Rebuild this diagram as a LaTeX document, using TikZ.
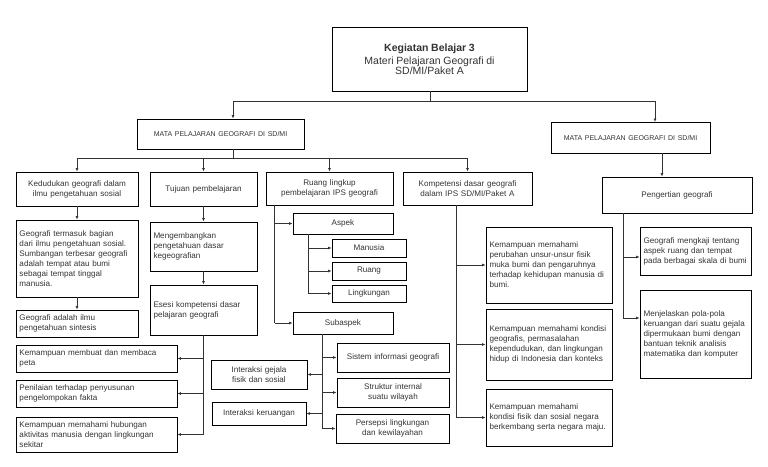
\documentclass[tikz,border=0pt]{standalone}
\usepackage{fontspec}
\setmainfont{Liberation Sans}
\usetikzlibrary{arrows.meta,calc}
\newcommand\bx[7][align=center]{%
  \node[box,#1,minimum width={(#5-#3)*1pt},minimum height={(#6-#4)*1pt},text width={(#5-#3-7)*1pt}]
   (#2) at ({(#3+#5)/2},{(#4+#6)/2}) {#7};}
\begin{document}
\hyphenpenalty=10000 \exhyphenpenalty=10000 \relax
\begin{tikzpicture}[x=1pt,y=-1pt,
  box/.style={draw,line width=0.9pt,inner sep=1.5pt,font=\fontsize{8.1}{10}\selectfont,text=black!80},
  ln/.style={line width=0.7pt,draw=black!80},
  arr/.style={ln,-{Latex[length=3.5pt,width=3pt]}}]
\useasboundingbox (0,0) rectangle (768,466);
\bx{title}{332}{27}{527}{91}{{\fontsize{10.5}{13}\selectfont\textbf{Kegiatan Belajar 3}\\ Materi Pelajaran Geografi di\\ SD/MI/Paket A}}
\bx{mataL}{137}{119}{304}{149}{{\fontsize{7}{8}\selectfont MATA PELAJARAN GEOGRAFI DI SD/MI}}
\bx{mataR}{551}{122}{710}{153}{{\fontsize{7}{8}\selectfont MATA PELAJARAN GEOGRAFI DI SD/MI}}
\bx{ked}{16}{172}{138}{206}{Kedudukan geografi dalam ilmu pengetahuan sosial}
\bx{tuj}{150}{172}{257}{206}{Tujuan pembelajaran}
\bx{ruang}{266}{172}{393}{205}{Ruang lingkup pembelajaran IPS geografi}
\bx{komp}{403}{172}{532}{205}{Kompetensi dasar geografi dalam IPS SD/MI/Paket A}
\bx{peng}{602}{177}{752}{213}{Pengertian geografi}
\bx[align=left]{gtb}{16}{220}{138}{297}{Geografi termasuk bagian dari ilmu pengetahuan sosial. Sumbangan terbesar geografi adalah tempat atau bumi sebagai tempat tinggal manusia.}
\bx[align=left]{gai}{16}{310}{138}{337}{Geografi adalah ilmu pengetahuan sintesis}
\bx[align=left]{meng}{150}{222}{257}{271}{Mengembangkan pengetahuan dasar kegeografian\\[4pt]}
\bx[align=left]{eses}{150}{285}{257}{335}{Esesi kompetensi dasar pelajaran geografi\\[4pt]}
\bx[align=left]{k1}{16}{345}{177}{372}{Kemampuan membuat dan membaca peta}
\bx[align=left]{k2}{16}{380}{177}{407}{Penilaian terhadap penyusunan pengelompokan fakta}
\bx[align=left]{k3}{16}{417}{177}{452}{Kemampuan memahami hubungan aktivitas manusia dengan lingkungan sekitar}
\bx{aspek}{293}{213}{393}{234}{Aspek}
\bx{man}{332}{239}{406}{257}{Manusia}
\bx{rua}{332}{262}{406}{280}{Ruang}
\bx{lin}{332}{285}{406}{302}{Lingkungan}
\bx{sub}{293}{312}{393}{334}{Subaspek}
\bx{sig}{337}{343}{449}{372}{Sistem informasi geografi}
\bx{str}{337}{378}{449}{407}{Struktur internal suatu wilayah}
\bx{per}{336}{414}{449}{443}{Persepsi lingkungan dan kewilayahan}
\bx{igf}{211}{360}{307}{389}{Interaksi gejala fisik dan sosial}
\bx{ik}{212}{402}{306}{425}{Interaksi keruangan}
\bx[align=left]{kp1}{486}{227}{612}{303}{Kemampuan memahami perubahan unsur-unsur fisik muka bumi dan pengaruhnya terhadap kehidupan manusia di bumi.}
\bx[align=left]{kp2}{486}{309}{612}{380}{Kemampuan memahami kondisi geografis, permasalahan kependudukan, dan lingkungan hidup di Indonesia dan konteks}
\bx[align=left]{kp3}{486}{389}{612}{446}{Kemampuan memahami kondisi fisik dan sosial negara berkembang serta negara maju.}
\bx[align=left]{gm}{640}{227}{751}{275}{Geografi mengkaji tentang aspek ruang dan tempat pada berbagai skala di bumi}
\bx[align=left]{mj}{640}{290}{751}{378}{Menjelaskan pola-pola keruangan dari suatu gejala dipermukaan bumi dengan bantuan teknik analisis matematika dan komputer}
% top
\coordinate (tb) at (430,101);
\coordinate (bar) at (233,158);
\draw[ln] (title.south -| tb) -- (tb);
\draw[arr] (tb) -| (mataL.north -| bar);
\draw[arr] (tb) -| (655,122);
\coordinate (mr) at (662,153);
\draw[arr] (mr) -- (peng.north -| mr);
\draw[ln] (mataL.south -| bar) -- (bar);
\draw[ln] (bar -| ked.north) -- (bar -| komp.north);
\foreach \n in {ked,tuj,ruang,komp} \draw[arr] (bar -| \n.north) -- (\n.north);
% left
\draw[arr] (ked.south) -- (gtb.north);
\draw[arr] (gtb.south) -- (gai.north);
\draw[arr] (tuj.south) -- (meng.north);
\draw[arr] (meng.south) -- (eses.north);
\draw[ln] (eses.south) -- (eses.south |- k3.east);
\foreach \n in {k1,k2,k3} \draw[arr] (eses.south |- \n.east) -- (\n.east);
% ruang
\coordinate (rv) at ($(ruang.south west)+(9,0)$);
\draw[ln] (rv) -- (rv |- sub.west);
\foreach \n in {aspek,sub} \draw[arr] (rv |- \n.west) -- (\n.west);
\coordinate (av) at ($(aspek.south west)+(16,0)$);
\draw[ln] (av) -- (av |- lin.west);
\foreach \n in {man,rua,lin} \draw[arr] (av |- \n.west) -- (\n.west);
\coordinate (sv) at ($(sub.south west)+(30,0)$);
\draw[ln] (sv) -- (sv |- per.west);
\foreach \n in {sig,str,per} \draw[arr] (sv |- \n.west) -- (\n.west);
\foreach \n in {igf,ik} \draw[arr] (sv |- \n.east) -- (\n.east);
% komp
\coordinate (kv) at (456,205);
\draw[ln] (kv) -- (kv |- kp3.west);
\foreach \n in {kp1,kp2,kp3} \draw[arr] (kv |- \n.west) -- (\n.west);
\coordinate (pv) at (623,213);
\draw[ln] (pv) -- (623,318);
\draw[arr] (623,257) -- (gm.west |- 0,257);
\draw[arr] (623,318) -- (mj.west |- 0,318);
\end{tikzpicture}
\end{document}
